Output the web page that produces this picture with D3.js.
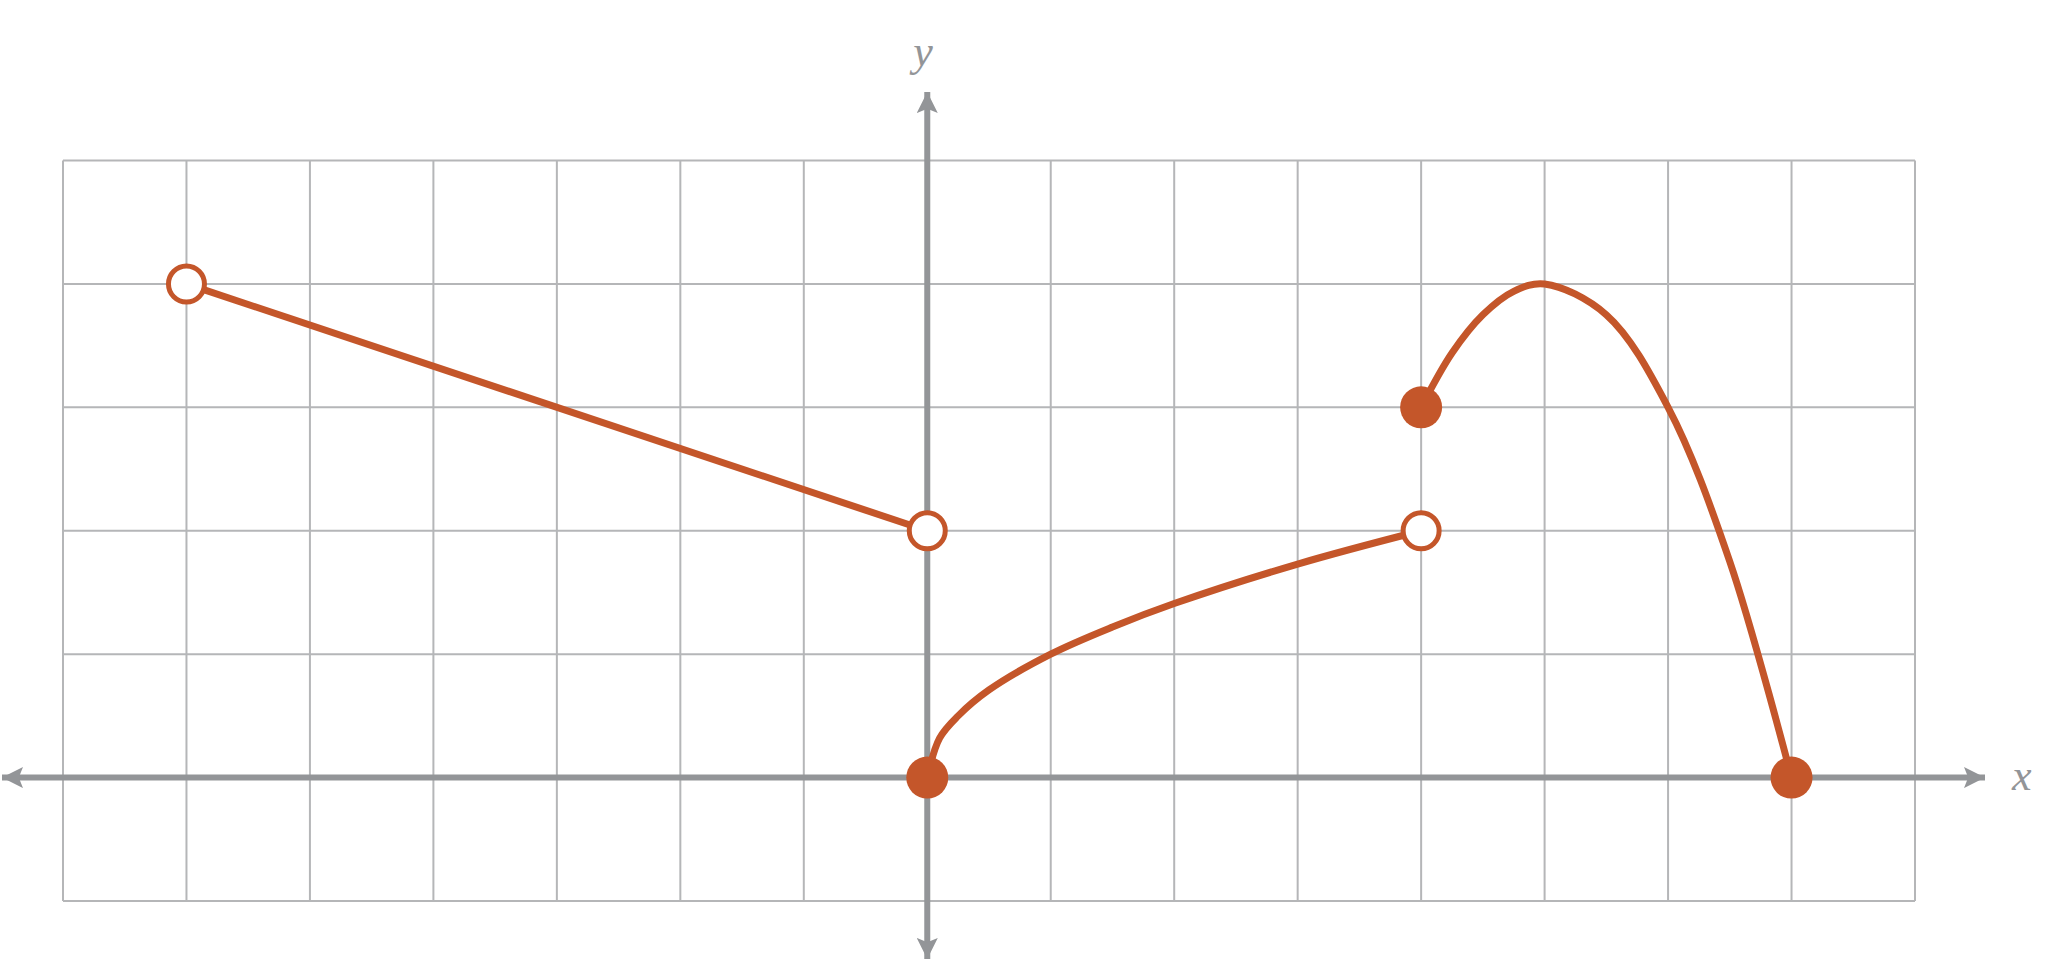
<!DOCTYPE html>
<html>
<head>
<meta charset="utf-8">
<script src="https://cdn.jsdelivr.net/npm/d3@7"></script>
<style>
  body { margin: 0; background: #fff; }
</style>
</head>
<body>
<svg id="graph" width="2048" height="961"></svg>
<script>
// grid extent and ticks
const xTicks = d3.range(-7, 9);
const yTicks = d3.range(-1, 6);

// pieces of the graph
const linePiece = [[-6, 4], [0, 2]];
const rootPiece = [[0, 0], [0.1, 0.32], [0.25, 0.5], [0.5, 0.71], [1, 1], [1.5, 1.22], [2, 1.41], [3, 1.73], [4, 2]];
const archPiece = [[4, 3], [4.25, 3.44], [4.5, 3.75], [4.75, 3.94], [5, 4], [5.5, 3.75], [6, 3], [6.5, 1.75], [7, 0]];
const openDots = [[-6, 4], [0, 2], [4, 2]];
const filledDots = [[0, 0], [4, 3], [7, 0]];

const svg = d3.select("#graph");
const orange = "#c4562a";
const axisGrey = "#939598";

const x = d3.scaleLinear().domain([-7, 8]).range([63, 1915]);
const y = d3.scaleLinear().domain([-1, 5]).range([901, 160.5]);

// grid
svg.append("g").selectAll("line").data(xTicks).enter().append("line")
  .attr("x1", d => x(d)).attr("x2", d => x(d))
  .attr("y1", y(5)).attr("y2", y(-1))
  .attr("stroke", "#b5b6b8").attr("stroke-width", 2);
svg.append("g").selectAll("line").data(yTicks).enter().append("line")
  .attr("x1", x(-7)).attr("x2", x(8))
  .attr("y1", d => y(d)).attr("y2", d => y(d))
  .attr("stroke", "#b5b6b8").attr("stroke-width", 2);

// axes with arrows
const defs = svg.append("defs");
defs.append("marker").attr("id", "arrow")
  .attr("viewBox", "0 0 10 10").attr("refX", 10).attr("refY", 5)
  .attr("markerWidth", 3.5).attr("markerHeight", 3.5).attr("orient", "auto-start-reverse")
  .attr("markerUnits", "strokeWidth")
  .append("path").attr("d", "M0,0 L10,5 L0,10 L2,5 Z").attr("fill", axisGrey);

svg.append("line")
  .attr("x1", 2).attr("x2", 1985).attr("y1", y(0)).attr("y2", y(0))
  .attr("stroke", axisGrey).attr("stroke-width", 6)
  .attr("marker-start", "url(#arrow)").attr("marker-end", "url(#arrow)");
svg.append("line")
  .attr("x1", x(0)).attr("x2", x(0)).attr("y1", 92).attr("y2", 959)
  .attr("stroke", axisGrey).attr("stroke-width", 6)
  .attr("marker-start", "url(#arrow)").attr("marker-end", "url(#arrow)");

svg.append("text").attr("x", 2012).attr("y", y(0) + 12)
  .attr("font-family", "Liberation Serif").attr("font-style", "italic")
  .attr("font-size", 44).attr("fill", axisGrey).text("x");
svg.append("text").attr("x", x(0) - 14).attr("y", 66)
  .attr("font-family", "Liberation Serif").attr("font-style", "italic")
  .attr("font-size", 44).attr("fill", axisGrey).text("y");

// curves
const line = d3.line().x(d => x(d[0])).y(d => y(d[1]));
const smooth = d3.line().x(d => x(d[0])).y(d => y(d[1])).curve(d3.curveCatmullRom);

svg.append("path").attr("d", line(linePiece))
  .attr("fill", "none").attr("stroke", orange).attr("stroke-width", 7);
svg.append("path").attr("d", smooth(rootPiece))
  .attr("fill", "none").attr("stroke", orange).attr("stroke-width", 7);
svg.append("path").attr("d", smooth(archPiece))
  .attr("fill", "none").attr("stroke", orange).attr("stroke-width", 7);

// endpoints
svg.append("g").selectAll("circle").data(openDots).enter().append("circle")
  .attr("cx", d => x(d[0])).attr("cy", d => y(d[1])).attr("r", 18)
  .attr("fill", "#fff").attr("stroke", orange).attr("stroke-width", 5);
svg.append("g").selectAll("circle").data(filledDots).enter().append("circle")
  .attr("cx", d => x(d[0])).attr("cy", d => y(d[1])).attr("r", 21)
  .attr("fill", orange);
</script>
</body>
</html>
